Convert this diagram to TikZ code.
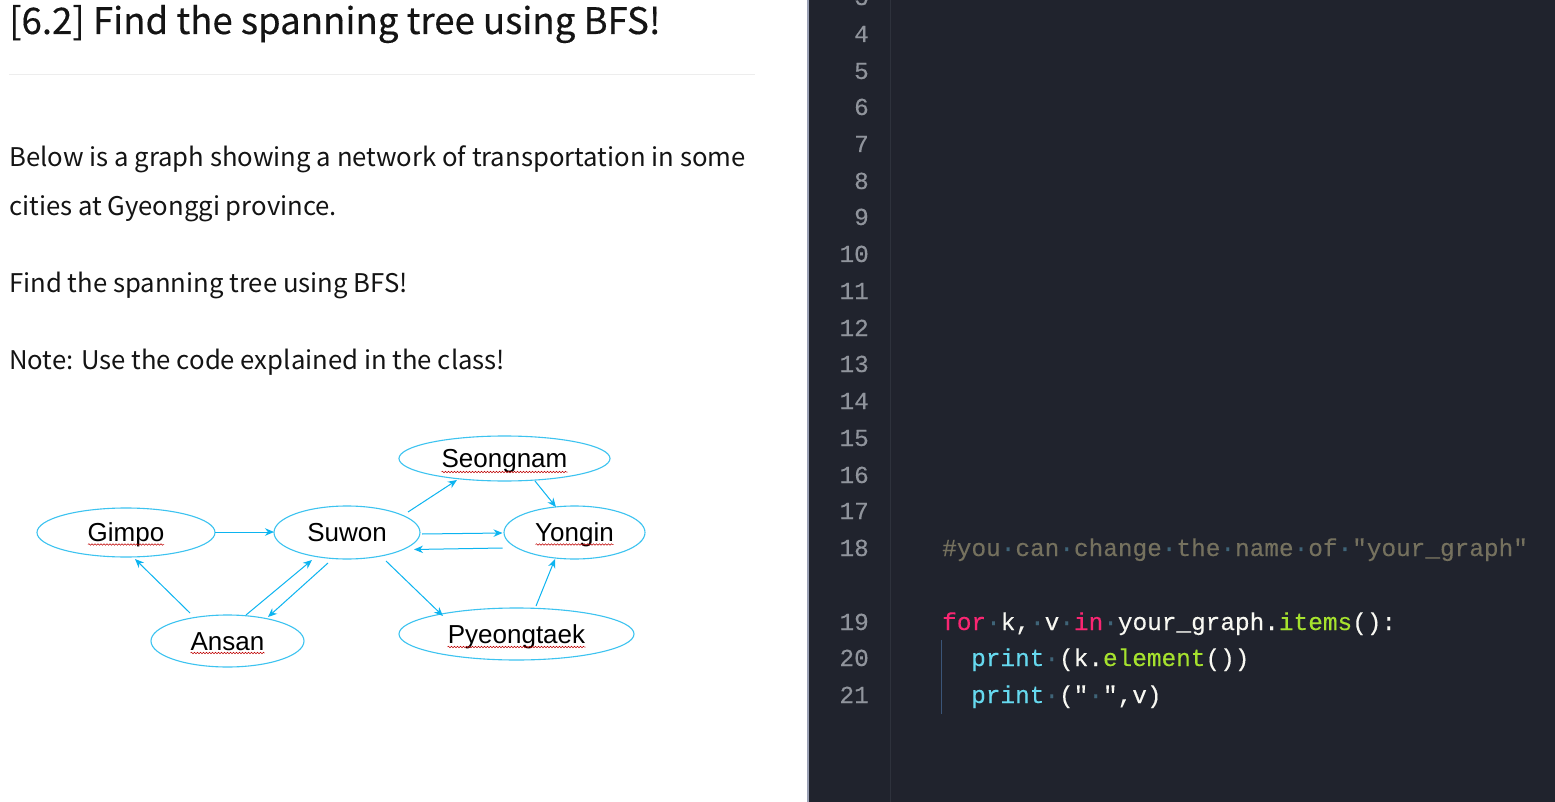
\documentclass[tikz,border=0pt]{standalone}
\usepackage{fontspec}
\usetikzlibrary{shapes.geometric,calc,arrows.meta,decorations.pathmorphing}
\newfontfamily\bodyfont{Noto Sans CJK KR}
\newfontfamily\titlefont[FakeBold=0.35]{Noto Sans CJK KR}
\newfontfamily\codefont[FakeBold=0.25]{Liberation Mono}
\newfontfamily\graphfont{Liberation Sans}
\definecolor{panelbg}{HTML}{20232D}
\definecolor{gutterline}{HTML}{2E323C}
\definecolor{numc}{HTML}{90949C}
\definecolor{commentc}{HTML}{75715E}
\definecolor{keyc}{HTML}{F92672}
\definecolor{plainc}{HTML}{F8F8F2}
\definecolor{methc}{HTML}{A6E22E}
\definecolor{funcc}{HTML}{66D9EF}
\definecolor{guidec}{HTML}{3B5578}
\definecolor{wsc}{HTML}{3F6478}
\definecolor{skyc}{HTML}{0CB4F0}
\definecolor{ellc}{HTML}{3CC3F0}
\definecolor{edgeline}{HTML}{9AA0B4}
\newcommand{\wsdot}{\textcolor{wsc}{·}}
\tikzset{
  x=1pt,y=-1pt,
  titletext/.style={anchor=base west,inner sep=0,font=\titlefont\fontsize{36.6}{37}\selectfont,text=black!92},
  bodytext/.style={anchor=base west,inner sep=0,font=\bodyfont\fontsize{25.7}{27}\selectfont,text=black!92},
  lineno/.style={anchor=base east,inner sep=0,font=\codefont\fontsize{24.4}{25}\selectfont,text=numc},
  codeline/.style={anchor=base west,inner sep=0,font=\codefont\fontsize{24.4}{25}\selectfont,text=plainc},
  city/.style={draw=ellc,ellipse,inner sep=0,line width=1.1pt,font=\graphfont\fontsize{26}{26}\selectfont,text=black,text height=18.6pt,text depth=0pt},
  edge/.style={draw=skyc,line width=1pt,-{Stealth[length=9pt,width=7.5pt]}},
  spell/.style={draw=red!75!black,line width=0.5pt,decorate,decoration={snake,amplitude=0.8pt,segment length=3pt}},
}
\begin{document}
\begin{tikzpicture}
\useasboundingbox (0,0) rectangle (1555,802);
\fill[white] (0,0) rectangle (1555,802);
% right panel
\fill[panelbg] (809,0) rectangle (1555,802);
\draw[line width=2pt,draw=edgeline] (808,0) -- (808,802);
\draw[line width=1pt,draw=gutterline] (890,0) -- (890,802);
\draw[line width=1.2pt,draw=guidec] (941.5,640) -- (941.5,714);
% left text
\node[titletext] (title) at (9,34) {[6.2] Find the spanning tree using BFS!};
\draw[line width=1pt,draw=black!7] (9,74.5) -- (755,74.5);
\node[bodytext] (p1) at (9,167) {Below is a graph showing a network of transportation in some};
\node[bodytext] (p2) at (9,216) {cities at Gyeonggi province.};
\node[bodytext] (p3) at (9,292.5) {Find the spanning tree using BFS!};
\node[bodytext] (p4) at (9,369.5) {Note: Use the code explained in the class!};
% line numbers
\node[lineno] (n3) at (869,5) {3};
\node[lineno] (n4) at (869,42) {4};
\node[lineno] (n5) at (869,79) {5};
\node[lineno] (n6) at (869,115) {6};
\node[lineno] (n7) at (869,152) {7};
\node[lineno] (n8) at (869,189) {8};
\node[lineno] (n9) at (869,225) {9};
\node[lineno] (n10) at (869,262) {10};
\node[lineno] (n11) at (869,299) {11};
\node[lineno] (n12) at (869,336) {12};
\node[lineno] (n13) at (869,372) {13};
\node[lineno] (n14) at (869,409) {14};
\node[lineno] (n15) at (869,446) {15};
\node[lineno] (n16) at (869,483) {16};
\node[lineno] (n17) at (869,519) {17};
\node[lineno] (n18) at (869,556) {18};
\node[lineno] (n19) at (869,630) {19};
\node[lineno] (n20) at (869,666) {20};
\node[lineno] (n21) at (869,703) {21};
% code
\node[codeline,text=commentc] (c18) at (942,556) {\#you\wsdot can\wsdot change\wsdot the\wsdot name\wsdot of\wsdot "your\_graph"};
\node[codeline] (c19) at (942,630) {\textcolor{keyc}{for}\wsdot k,\wsdot v\wsdot \textcolor{keyc}{in}\wsdot your\_graph.\textcolor{methc}{items}():};
\node[codeline] (c20) at (971,666) {\textcolor{funcc}{print}\wsdot (k.\textcolor{methc}{element}())};
\node[codeline] (c21) at (971,703) {\textcolor{funcc}{print}\wsdot ("\wsdot ",v)};
% graph
\node[city,minimum width=178pt,minimum height=49pt] (Gimpo) at (126,532.5) {Gimpo};
\node[city,minimum width=146pt,minimum height=53pt] (Suwon) at (347,532.5) {Suwon};
\node[city,minimum width=211pt,minimum height=45pt] (Seongnam) at (504.5,458.5) {Seongnam};
\node[city,minimum width=141pt,minimum height=53pt] (Yongin) at (574.5,532.5) {Yongin};
\node[city,minimum width=153pt,minimum height=52pt] (Ansan) at (227.5,641) {Ansan};
\node[city,minimum width=235pt,minimum height=52pt] (Pyeongtaek) at (516.5,634) {Pyeongtaek};
% spell-check underlines
\draw[spell] ($(Gimpo)+(-38,12)$) -- ($(Gimpo)+(38,12)$);
\draw[spell] ($(Seongnam)+(-63,13.5)$) -- ($(Seongnam)+(63,13.5)$);
\draw[spell] ($(Yongin)+(-39,12)$) -- ($(Yongin)+(39,12)$);
\draw[spell] ($(Ansan)+(-37,12)$) -- ($(Ansan)+(37,12)$);
\draw[spell] ($(Pyeongtaek)+(-69,13)$) -- ($(Pyeongtaek)+(69,13)$);
% connectors
\draw[edge] ($(Gimpo)+(89,-0.5)$) -- ($(Suwon)+(-73,-0.5)$);
\draw[edge] ($(Suwon)+(61,-20.5)$) -- ($(Seongnam)+(-47.5,21.5)$);
\draw[edge] ($(Suwon)+(75,1.5)$) -- ($(Yongin)+(-72,0.5)$);
\draw[edge] ($(Yongin)+(-72,15.5)$) -- ($(Suwon)+(67,17)$);
\draw[edge] ($(Seongnam)+(30.5,22.5)$) -- ($(Yongin)+(-18.5,-25.5)$);
\draw[edge] ($(Suwon)+(39,28.5)$) -- ($(Pyeongtaek)+(-73.5,-18)$);
\draw[edge] ($(Pyeongtaek)+(19.5,-28)$) -- ($(Yongin)+(-19.5,26.5)$);
\draw[edge] ($(Ansan)+(-37.5,-28)$) -- ($(Gimpo)+(9,26.5)$);
\draw[edge] ($(Ansan)+(18.5,-26)$) -- ($(Suwon)+(-35,27.5)$);
\draw[edge] ($(Suwon)+(-19,30.5)$) -- ($(Ansan)+(40.5,-24)$);
\end{tikzpicture}
\end{document}
